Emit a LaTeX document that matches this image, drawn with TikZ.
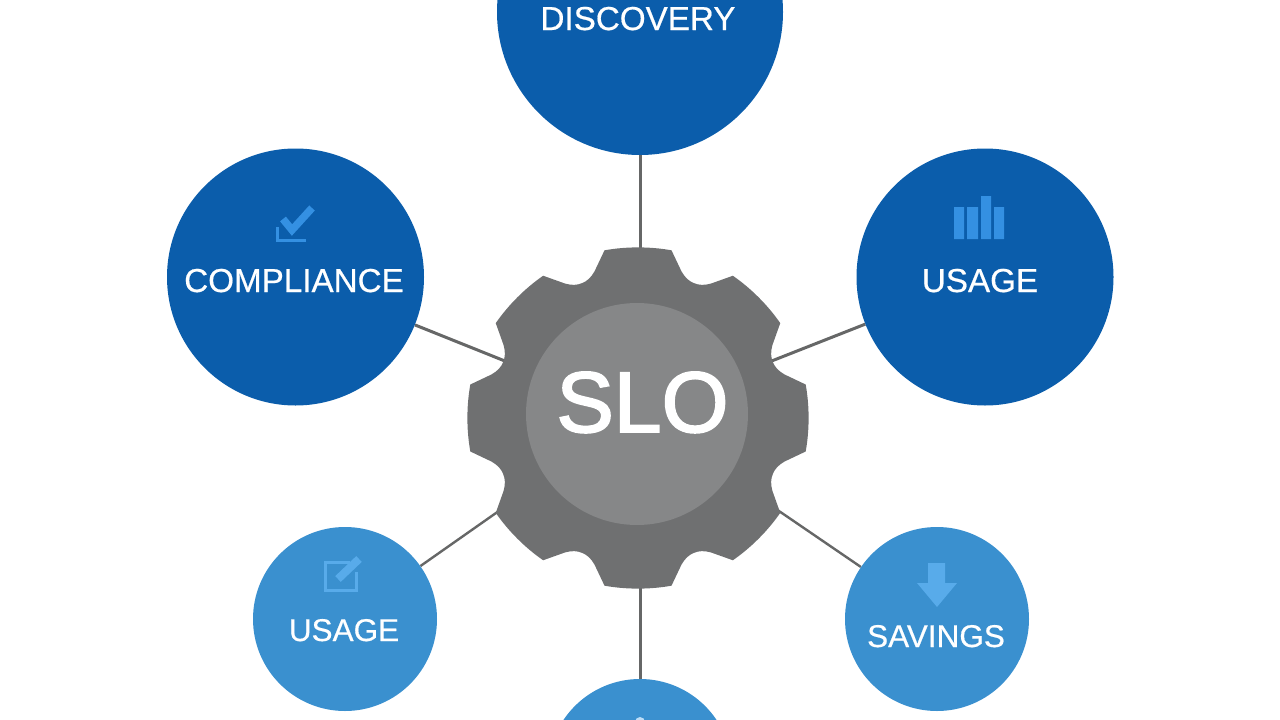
\documentclass[tikz,border=0pt]{standalone}
\usepackage{fontspec}
\setmainfont{Liberation Sans}
\newfontfamily\capfont{Liberation Sans}[FakeBold=0.5]
\newfontfamily\slofont{Liberation Sans}[FakeBold=2.2]
\usetikzlibrary{backgrounds}
\definecolor{deepblue}{HTML}{0B5DAB}
\definecolor{softblue}{HTML}{3A90CF}
\definecolor{deepicon}{HTML}{3490E2}
\definecolor{softicon}{HTML}{58ABEA}
\definecolor{gearouter}{HTML}{6F7071}
\definecolor{gearinner}{HTML}{868788}
\definecolor{linkgray}{HTML}{666767}
\tikzset{
	bigdisc/.style={circle,fill=deepblue,minimum size=257pt,inner sep=0pt},
	smalldisc/.style={circle,fill=softblue,minimum size=184pt,inner sep=0pt},
	caption/.style={text=white,anchor=base,inner sep=0pt,font=\capfont\fontsize{33.2}{36}\selectfont},
	smallcaption/.style={caption,font=\capfont\fontsize{31.5}{36}\selectfont},
	link/.style={draw=linkgray,line width=3pt},
	thinlink/.style={draw=linkgray,line width=2.4pt}
}
\begin{document}
\begin{tikzpicture}[x=1pt,y=-1pt]
	\useasboundingbox (0,0) rectangle (1280,720);
	\node[bigdisc,minimum size=286pt] (discovery)  at (640,12)  {};
	\node[bigdisc]                    (compliance) at (295.5,277) {};
	\node[bigdisc]                    (usage)      at (985,277) {};
	\node[smalldisc]                  (usagelow)   at (345,619) {};
	\node[smalldisc]                  (savings)    at (937,619) {};
	\node[smalldisc]                  (bottom)     at (640,771) {};
	\node[circle,fill=gearinner,minimum size=222pt,inner sep=0pt] (hub) at (637,414) {};
	\begin{scope}[on background layer]
		\path[link]
			(discovery)  edge (discovery |- hub)
			(compliance) edge (hub)
			(usage)      edge (hub)
			(bottom)     edge (bottom |- hub);
		\path[thinlink]
			(usagelow)   edge (hub)
			(savings)    edge (hub);
		\fill[gearouter,shift={(638,418)}] (-22.5:146)
			\foreach \a in {0,45,...,315} {
				.. controls (\a-20.5:146) and (\a-18.5:148) .. (\a-16.5:153)
				-- (\a-11.3:171)
				.. controls (\a-4:172) and (\a+4:172) .. (\a+11.3:171)
				-- (\a+16.5:153)
				.. controls (\a+18.5:148) and (\a+20.5:146) .. (\a+22.5:146)
			} -- cycle;
	\end{scope}
	\node[caption] (discoverytxt)  at (638,30)  {DISCOVERY};
	\node[caption] (compliancetxt) at (294,292) {COMPLIANCE};
	\node[caption] (usagetxt)      at (980,292) {USAGE};
	\node[smallcaption] (usagelowtxt) at (344,641) {USAGE};
	\node[smallcaption] (savingstxt)  at (936,647) {SAVINGS};
	\node[text=white,anchor=base,inner sep=0pt,font=\slofont\fontsize{86}{90}\selectfont] (slotxt) at (642.5,432) {SLO};
	% icons
	\draw[deepicon,line width=7.5pt] (283,219) -- (292,230) -- (312,208);
	\draw[deepicon,line width=3pt] (277,227) -- (277,240) -- (306,240);
	\fill[deepicon] (954,207) rectangle (964,239) (967,207) rectangle (978,239)
		(981,196) rectangle (991,239) (994,207) rectangle (1004,239);
	\draw[softicon,line width=3pt] (350,562) -- (325,562) -- (325,590) -- (356,590) -- (356,572);
	\draw[softicon,line width=8pt] (338,579) -- (359,559);
	\fill[softicon] (928,563) -- (945,563) -- (945,583) -- (957,583) -- (937,607) -- (917,583) -- (928,583) -- cycle;
	\fill[white!60!softicon] (640,722) circle (5);
\end{tikzpicture}
\end{document}
